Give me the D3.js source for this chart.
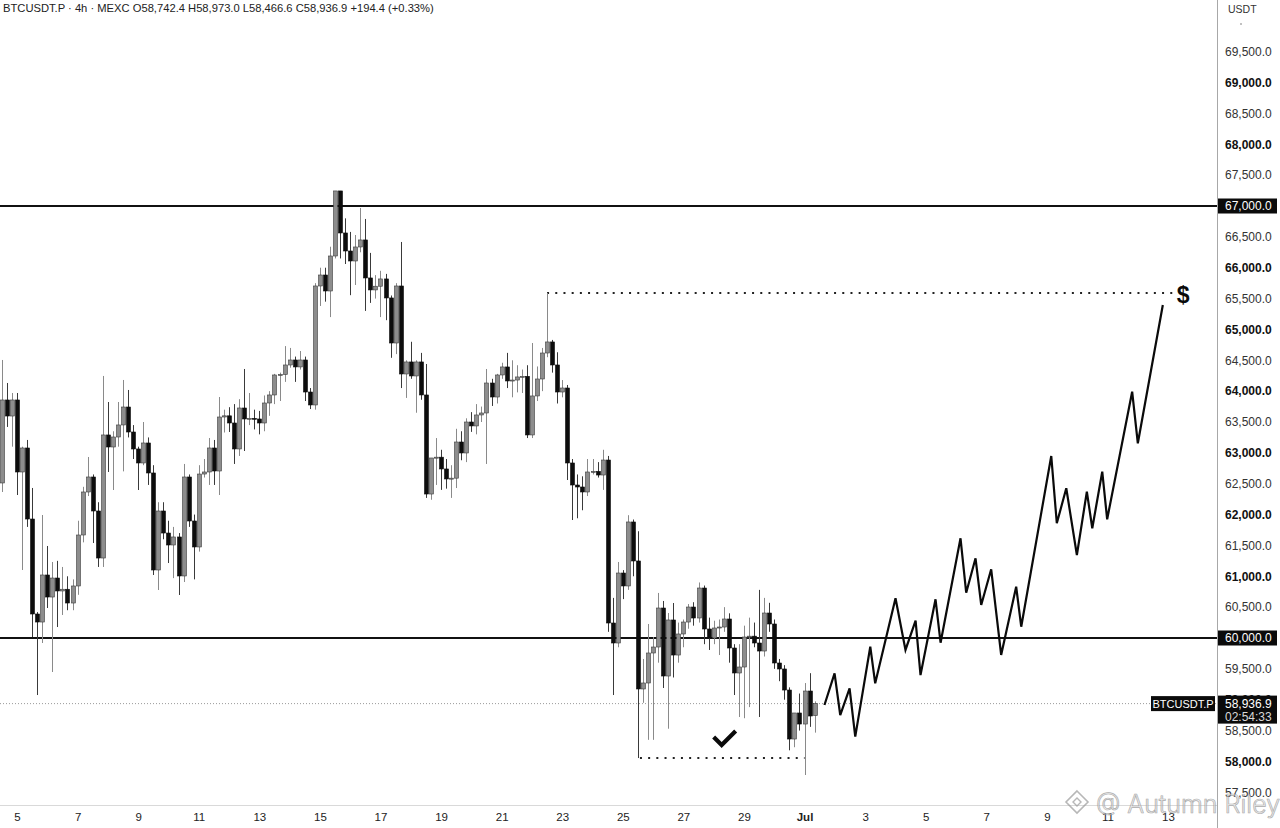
<!DOCTYPE html>
<html><head><meta charset="utf-8">
<script src="https://cdn.jsdelivr.net/npm/d3@7"></script>
<style>
html,body{margin:0;padding:0;background:#fff;}
svg{display:block;font-family:"Liberation Sans",Arial,sans-serif;}
</style></head>
<body>
<svg id="chart" width="1280" height="828"></svg>
<script>
// ---------- DATA ----------
const symbolTitle = "BTCUSDT.P · 4h · MEXC";
const headerValues = ["O58,742.4", "H58,973.0", "L58,466.6", "C58,936.9", "+194.4 (+0.33%)"];
const firstCandleTime = "2024-06-04T12:00:00Z";
// 4h candles [open, high, low, close]
const ohlc = [
[62512,64505,62366,63857],[63857,64132,63420,63597],[63597,63970,63100,63857],[63857,63970,62317,62690],
[62690,63100,61102,63079],[63079,63209,61800,61928],[61928,62431,60016,60389],[60389,60420,59076,60259],
[60259,61993,59919,61021],[61021,61491,60486,60664],[60664,61232,59449,60972],[60972,61250,60178,60762],
[60762,61151,60373,60790],[60790,61000,60450,60567],[60567,60950,60450,60843],[60843,61900,60700,61669],
[61669,62450,61550,62366],[62366,62933,62300,62609],[62609,62650,61539,62058],[62058,62200,61151,61296],
[61296,64246,61151,63290],[63290,63824,62690,63095],[63095,63350,62398,63257],[63257,63824,63100,63452],
[63452,64181,62700,63743],[63743,64019,63250,63338],[63338,63450,62900,63063],[63063,63100,62398,62836],
[62836,63500,62800,63160],[63160,63250,62480,62674],[62674,62800,61021,61102],[61102,62200,60778,62058],
[62058,62200,61600,61701],[61701,61900,61215,61507],[61507,61800,60970,61637],[61637,61700,60697,61005],
[61005,62820,60907,62609],[62609,62650,61800,61896],[61896,62000,60950,61475],[61475,62800,61400,62657],
[62657,62900,62600,62690],[62690,63241,62480,63079],[63079,63209,62480,62706],[62706,63905,62317,63581],
[63581,63700,63330,63600],[63600,63740,63338,63484],[63484,63790,62820,63063],[63063,63870,62950,63727],
[63727,64359,63030,63549],[63549,63970,63450,63560],[63560,63700,63380,63549],[63549,63680,63300,63484],
[63484,63930,63350,63808],[63808,64000,63600,63938],[63938,64280,63790,64262],[64262,64300,63840,64270],
[64270,64730,64150,64424],[64424,64700,64380,64505],[64505,64560,64150,64392],[64392,64650,64350,64505],
[64505,64560,63840,63986],[63986,64050,63710,63776],[63776,65750,63700,65704],[65704,66000,65380,65882],
[65882,66000,65450,65623],[65623,66340,65200,66190],[66190,67244,66150,67244],[67244,67244,66150,66563],
[66563,66800,66060,66271],[66271,66580,65555,66109],[66109,66530,65720,66336],[66336,66968,66250,66450],
[66450,66790,65300,65834],[65834,66240,65430,65640],[65640,65880,65500,65700],[65700,65950,65200,65818],
[65818,65900,65150,65510],[65510,65550,64540,64780],[64780,65750,64600,65704],[65704,66417,64050,64278],
[64278,64500,63890,64473],[64473,64800,64200,64246],[64246,64500,63650,64473],[64473,64620,63860,63938],
[63938,64440,62270,62333],[62333,62917,62240,62917],[62917,63240,62480,62930],[62930,63050,62400,62739],
[62739,62900,62420,62577],[62577,62800,62270,62590],[62590,63390,62430,63176],[63176,63350,62880,62998],
[62998,63560,62850,63500],[63500,63660,63340,63436],[63436,63790,63300,63614],[63614,63750,63500,63646],
[63646,64359,62820,64132],[64132,64200,63760,63905],[63905,64280,63800,64262],[64262,64460,64200,64392],
[64392,64620,64050,64165],[64165,64500,63900,64180],[64180,64420,63980,64230],[64230,64350,63970,64240],
[64240,64420,63240,63290],[63290,64780,63240,63922],[63922,64400,63840,64197],[64197,64700,64000,64618],
[64618,65590,64550,64797],[64797,64830,64300,64424],[64424,64630,63800,63986],[63986,64180,63900,64051],
[64051,64100,62560,62836],[62836,62900,61912,62479],[62479,62650,61940,62447],[62447,62620,62070,62366],
[62366,62900,62300,62690],[62690,62900,62650,62700],[62700,62850,62600,62641],[62641,63050,62400,62884],
[62884,62950,60100,60243],[60243,60650,59076,59919],[59919,61232,59850,61053],[61053,61100,60630,60843],
[60843,61990,60780,61880],[61880,61920,61000,61248],[61248,61730,58055,59174],[59174,59660,58950,59271],
[59271,60227,58350,59757],[59757,60016,58350,59854],[59854,60730,59600,60486],[60486,60600,59190,59384],
[59384,60405,58530,60292],[60292,60567,59360,59724],[59724,60250,59600,60065],[60065,60300,59850,60259],
[60259,60550,60150,60502],[60502,60580,60200,60324],[60324,60900,60250,60810],[60810,60850,59900,60146],
[60146,60330,59806,60000],[60000,60280,59900,60162],[60162,60300,59724,60178],[60178,60500,60100,60308],
[60308,60400,59600,59838],[59838,59900,59076,59433],[59433,59900,58720,59530],[59530,60200,58700,60016],
[60016,60330,58880,60030],[60030,60250,59850,59919],[59919,60780,58720,59789],[59789,60650,59700,60405],
[60405,60570,60100,60227],[60227,60300,59500,59595],[59595,59660,59300,59498],[59498,59560,59000,59157],
[59157,59200,58180,58363],[58363,58785,58230,58785],[58785,59100,58500,58606],[58606,59270,57780,59141],
[59141,59430,58560,58736],[58742.4,58973.0,58466.6,58936.9]
];
// projected path: hours after 2024-07-01 00:00 UTC, and price
const projHours  = [15.8,23.8,28.3,35.7,40.2,52.1,56.0,72.1,80.0,88.0,91.9,103.8,107.8,123.6,128.1,135.5,140.0,147.9,155.8,167.7,171.7,195.5,199.9,207.4,215.8,223.7,228.0,235.9,239.8,259.6,264.1,283.9];
const projPrices = [58914,59428,58752,59185,58401,59859,59266,60643,59806,60280,59400,60627,59924,61616,60734,61292,60535,61113,59725,60831,60183,62949,61859,62426,61345,62371,61778,62695,61924,63991,63155,65396];
const levels = [67000, 60000];
const targetLevel = {price: 65590, from: 108, to: "2024-07-13T06:00:00Z"};
const lowLevel = {price: 58055, from: 126, to: 159};
const lastPrice = 58936.9;
const lastPriceText = "58,936.9";
const countdownText = "02:54:33";
const yTicks = [57500,58000,58500,59000,59500,60000,60500,61000,61500,62000,62500,63000,63500,64000,64500,65000,65500,66000,66500,67000,67500,68000,68500,69000,69500];
const xTickDates = ["2024-06-05","2024-06-07","2024-06-09","2024-06-11","2024-06-13","2024-06-15","2024-06-17","2024-06-19","2024-06-21","2024-06-23","2024-06-25","2024-06-27","2024-06-29","2024-07-01","2024-07-03","2024-07-05","2024-07-07","2024-07-09","2024-07-11","2024-07-13"];
const xTickLabels = ["5","7","9","11","13","15","17","19","21","23","25","27","29","Jul","3","5","7","9","11","13"];
const checkAnchor = {date: "2024-06-28T00:00:00Z", price: 58395};
const dollarAnchor = {date: "2024-07-13T12:00:00Z", price: 65560};
const watermark = "@ Autumn Riley";

// ---------- LAYOUT ----------
const W = 1280, H = 828, plotR = 1217, plotB = 805;
const svg = d3.select("#chart");
svg.append("rect").attr("width", W).attr("height", H).attr("fill", "#fff");

const x = d3.scaleUtc().domain([new Date("2024-06-05T00:00:00Z"), new Date("2024-07-13T00:00:00Z")]).range([17, 1168]);
const y = d3.scaleLinear().domain([57294, 70338]).range([plotB, 0]);
const t0 = new Date(firstCandleTime).getTime();
const candleTime = i => new Date(t0 + i * 4 * 3600e3);

const plot = svg.append("g");

// axes borders
svg.append("line").attr("x1", 0).attr("x2", plotR).attr("y1", plotB + 0.5).attr("y2", plotB + 0.5).attr("stroke", "#d9d9d9");
svg.append("line").attr("x1", plotR + 0.5).attr("x2", plotR + 0.5).attr("y1", 0).attr("y2", H).attr("stroke", "#a8a8a8");

// current price dotted line
plot.append("line").attr("x1", 0).attr("x2", plotR).attr("y1", y(lastPrice)).attr("y2", y(lastPrice))
  .attr("stroke", "#9a9a9a").attr("stroke-width", 1).attr("stroke-dasharray", "1,2");

// horizontal levels
levels.forEach(p => {
  plot.append("line").attr("x1", 0).attr("x2", plotR).attr("y1", y(p)).attr("y2", y(p))
    .attr("stroke", "#111").attr("stroke-width", 2);
});

// dotted target and low lines
plot.append("line").attr("x1", x(candleTime(targetLevel.from))).attr("x2", x(new Date(targetLevel.to)))
  .attr("y1", y(targetLevel.price)).attr("y2", y(targetLevel.price))
  .attr("stroke", "#222").attr("stroke-width", 2).attr("stroke-dasharray", "2,6.2");
plot.append("line").attr("x1", x(candleTime(lowLevel.from)) + 2).attr("x2", x(candleTime(lowLevel.to)))
  .attr("y1", y(lowLevel.price)).attr("y2", y(lowLevel.price))
  .attr("stroke", "#222").attr("stroke-width", 2).attr("stroke-dasharray", "2,6.2");

// candles
const cg = plot.append("g");
ohlc.forEach((d, i) => {
  const [o, h, l, c] = d;
  const up = c >= o;
  const cx = Math.round(x(candleTime(i))) + 0.5;
  const col = up ? "#8d8d8d" : "#0d0d0d";
  cg.append("line").attr("x1", cx).attr("x2", cx).attr("y1", y(h)).attr("y2", y(l))
    .attr("stroke", up ? "#8a8a8a" : "#3a3a3a").attr("stroke-width", 1);
  const top = y(Math.max(o, c)), bot = y(Math.min(o, c));
  cg.append("rect").attr("x", cx - 2).attr("width", 4)
    .attr("y", top).attr("height", Math.max(1, bot - top))
    .attr("fill", col).attr("stroke", up ? "#3c3c3c" : "#0d0d0d").attr("stroke-width", 0.6);
});

// projection zigzag
const jul1 = new Date("2024-07-01T00:00:00Z").getTime();
const proj = projHours.map((hh, i) => [new Date(jul1 + hh * 3600e3), projPrices[i]]);
plot.append("path").datum(proj)
  .attr("d", d3.line().x(d => x(d[0])).y(d => y(d[1])))
  .attr("fill", "none").attr("stroke", "#0a0a0a").attr("stroke-width", 2.2).attr("stroke-linejoin", "miter");

// checkmark
const ckx = x(new Date(checkAnchor.date)), cky = y(checkAnchor.price);
plot.append("path").attr("d", `M${ckx},${cky} L${ckx + 8},${cky + 8} L${ckx + 22},${cky - 6}`)
  .attr("fill", "none").attr("stroke", "#0a0a0a").attr("stroke-width", 4.2).attr("stroke-linejoin", "miter");

// dollar sign
plot.append("text").attr("x", x(new Date(dollarAnchor.date))).attr("y", y(dollarAnchor.price))
  .attr("text-anchor", "middle").attr("dominant-baseline", "central")
  .attr("font-size", 23).attr("font-weight", 700).attr("fill", "#0a0a0a").text("$");

// header
const hdr = svg.append("text").attr("x", 3).attr("y", 12).attr("font-size", 11.2).attr("fill", "#222");
hdr.append("tspan").text(symbolTitle + " " + headerValues.join(" "));

// y axis
const yAxis = d3.axisRight(y).tickValues(yTicks).tickSize(0).tickPadding(0)
  .tickFormat(d => d3.format(",.1f")(d));
const yg = svg.append("g").attr("transform", `translate(${plotR + 8},0)`).call(yAxis);
yg.select(".domain").remove();
yg.selectAll("text").attr("font-size", 12)
  .attr("font-family", '"Liberation Sans",Arial,sans-serif')
  .attr("font-weight", d => d % 1000 === 0 ? 700 : 400)
  .attr("fill", d => d % 1000 === 0 ? "#111" : "#333");
svg.append("text").attr("x", 1228).attr("y", 13).attr("font-size", 10.5).attr("fill", "#333").text("USDT");
svg.append("circle").attr("cx", 1241).attr("cy", 24).attr("r", 0.7).attr("fill", "#555");

// x axis
const xAxis = d3.axisBottom(x).tickValues(xTickDates.map(s => new Date(s + "T00:00:00Z")))
  .tickSize(0).tickPadding(0).tickFormat((d, i) => xTickLabels[i]);
const xg = svg.append("g").attr("transform", `translate(0,${plotB + 8})`).call(xAxis);
xg.select(".domain").remove();
xg.selectAll("text").attr("font-size", 11.5).attr("fill", "#222")
  .attr("font-family", '"Liberation Sans",Arial,sans-serif')
  .attr("font-weight", (d, i) => xTickLabels[i] === "Jul" ? 700 : 400);

// level labels
function priceBox(p, txt) {
  const yy = y(p);
  svg.append("rect").attr("x", plotR + 1).attr("y", yy - 7.5).attr("width", 59).attr("height", 15).attr("fill", "#0b0b0b");
  svg.append("text").attr("x", plotR + 8).attr("y", yy).attr("dominant-baseline", "central")
    .attr("font-size", 12).attr("fill", "#fff").text(txt);
}
levels.forEach(p => priceBox(p, d3.format(",.1f")(p)));

// last price box
const ly = y(lastPrice);
svg.append("rect").attr("x", plotR + 1).attr("y", ly - 8).attr("width", 59).attr("height", 28).attr("fill", "#0b0b0b");
svg.append("text").attr("x", plotR + 8).attr("y", ly + 0.5).attr("dominant-baseline", "central")
  .attr("font-size", 12).attr("fill", "#fff").text(lastPriceText);
svg.append("text").attr("x", plotR + 8).attr("y", ly + 13.5).attr("dominant-baseline", "central")
  .attr("font-size", 12).attr("fill", "#d8d8d8").text(countdownText);
svg.append("rect").attr("x", 1151).attr("y", ly - 7.5).attr("width", 64).attr("height", 15).attr("fill", "#0b0b0b");
svg.append("text").attr("x", 1183).attr("y", ly).attr("dominant-baseline", "central").attr("text-anchor", "middle")
  .attr("font-size", 11).attr("fill", "#fff").text("BTCUSDT.P");

// watermark
const wm = svg.append("g").attr("opacity", 0.7);
const lx = 1077, lyy = 802;
wm.append("path").attr("d", `M${lx},${lyy - 11} L${lx + 11},${lyy} L${lx},${lyy + 11} L${lx - 11},${lyy} Z`)
  .attr("fill", "none").attr("stroke", "#9a9a9a").attr("stroke-width", 1.6);
wm.append("path").attr("d", `M${lx},${lyy - 4} L${lx + 4},${lyy} L${lx},${lyy + 4} L${lx - 4},${lyy} Z`)
  .attr("fill", "none").attr("stroke", "#9a9a9a").attr("stroke-width", 1.4);
wm.append("text").attr("x", 1096).attr("y", 813).attr("font-size", 25).attr("font-family", "Inter, 'Open Sans', sans-serif")
  .attr("font-weight", 300).attr("fill", "#e6e6e6").attr("stroke", "#8a8a8a").attr("stroke-width", 0.7).text(watermark);
</script>
</body></html>
